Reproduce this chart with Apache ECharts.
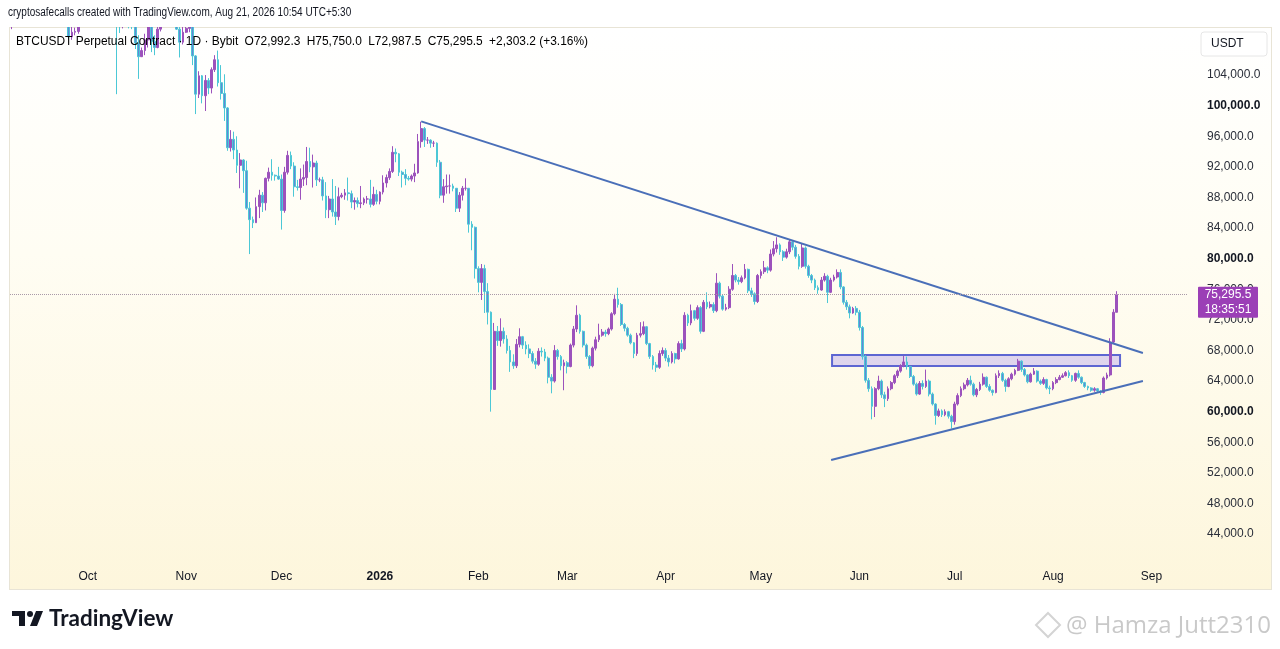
<!DOCTYPE html>
<html>
<head>
<meta charset="utf-8">
<script src="https://cdn.jsdelivr.net/npm/echarts@6/dist/echarts.min.js"></script>
<style>
  html, body { margin: 0; padding: 0; background: #fff; }
  #frame {
    position: absolute; left: 9px; top: 27px; width: 1261px; height: 561px;
    border: 1px solid #e8e4d6;
    background: linear-gradient(#ffffff 0%, #fffdf3 40%, #fdf6dc 100%);
  }
  #chart { position: absolute; left: 0; top: 0; width: 1280px; height: 649px; }
</style>
</head>
<body>
<div id="frame"></div>
<div id="chart"></div>
<script>
// BTCUSDT perpetual, daily candles, values in thousands of USDT
const startDate = [2025, 8, 7];      // first category: Sep 7 2025
const dayCount = 371;                 // categories up to Sep 12 2026
const firstOpen = 110.7;

const closes = [
  // Sep 7 - Sep 30
  111.1, 112.0, 111.5, 113.9, 115.4, 116.1, 115.9, 115.3, 115.4, 116.8, 116.5, 117.1, 115.7, 115.7, 115.3, 112.7, 112.0, 113.3, 109.0, 109.6, 109.7, 112.1, 114.4, 114.0,
  // Oct
  118.6, 120.6, 122.3, 122.4, 123.5, 124.8, 121.4, 123.3, 121.7, 113.2, 110.6, 115.2, 115.3, 113.0, 110.8, 108.2, 106.4, 107.2, 108.6, 110.6, 108.4, 107.6, 110.0, 111.0, 111.6, 114.5, 114.1, 112.9, 110.0, 108.3, 109.6,
  // Nov
  110.1, 110.6, 106.5, 101.5, 103.9, 101.3, 103.3, 102.3, 104.7, 106.0, 103.0, 101.6, 99.7, 94.5, 95.6, 94.2, 92.2, 92.9, 91.5, 86.6, 85.1, 84.7, 86.8, 88.3, 87.3, 90.5, 91.3, 90.9, 90.8, 90.4,
  // Dec
  86.3, 91.3, 93.5, 92.1, 89.4, 89.3, 90.4, 90.6, 92.7, 92.0, 92.5, 90.3, 90.3, 88.2, 86.4, 87.8, 86.1, 85.5, 88.1, 88.3, 88.6, 88.5, 87.4, 87.6, 87.2, 87.3, 87.8, 87.8, 87.1, 88.4, 87.5,
  // Jan 2026
  88.7, 89.9, 90.6, 91.4, 93.9, 93.7, 91.3, 91.0, 90.5, 90.4, 90.8, 91.2, 95.3, 97.0, 95.5, 95.5, 95.1, 95.1, 92.6, 88.3, 89.4, 89.5, 89.5, 89.2, 86.6, 88.3, 89.2, 89.2, 84.5, 84.1, 78.7,
  // Feb
  76.9, 78.7, 75.7, 73.0, 62.9, 70.5, 69.3, 70.5, 69.5, 68.0, 66.5, 66.0, 68.8, 69.8, 68.7, 68.2, 67.6, 66.6, 66.2, 67.9, 67.8, 67.0, 64.5, 64.0, 68.0, 67.2, 66.0, 66.4,
  // Mar
  65.9, 68.7, 70.8, 72.6, 70.5, 68.7, 67.2, 66.0, 68.3, 69.4, 70.0, 70.4, 70.2, 70.8, 72.8, 74.7, 74.0, 71.4, 70.9, 70.0, 69.0, 67.6, 70.0, 70.2, 71.1, 68.9, 67.2, 66.1, 65.8, 67.6, 68.0,
  // Apr
  67.0, 66.5, 67.6, 66.9, 68.9, 68.2, 72.6, 71.6, 73.2, 72.2, 73.6, 70.5, 74.3, 73.7, 74.0, 73.2, 76.8, 75.1, 73.4, 73.6, 76.0, 77.8, 77.2, 77.0, 77.5, 78.6, 75.8, 75.4, 74.4, 77.8,
  // May
  78.3, 78.8, 78.5, 80.6, 81.3, 81.8, 80.9, 80.2, 80.9, 82.2, 81.5, 80.3, 79.0, 81.4, 79.0, 77.8, 77.2, 76.2, 75.9, 77.2, 77.7, 75.6, 77.2, 77.6, 78.2, 76.3, 74.3, 73.7, 72.9, 73.5, 73.0,
  // Jun
  71.0, 67.2, 64.1, 63.0, 60.7, 63.0, 64.0, 62.2, 61.7, 63.0, 63.8, 64.7, 65.3, 66.0, 66.5, 65.9, 64.6, 63.6, 62.3, 63.7, 63.3, 64.0, 62.3, 61.0, 59.5, 60.1, 59.6, 60.0, 59.4, 58.7,
  // Jul
  61.0, 62.1, 63.0, 63.5, 64.1, 63.6, 62.2, 62.9, 63.6, 64.5, 63.3, 62.8, 62.5, 64.7, 65.0, 64.1, 63.3, 64.3, 64.9, 65.4, 66.6, 65.5, 64.8, 63.9, 64.9, 65.3, 64.0, 63.7, 64.2, 63.1, 63.0,
  // Aug 1 - Aug 21
  63.8, 64.2, 64.5, 64.7, 65.1, 64.7, 64.1, 65.0, 64.5, 63.8, 63.3, 63.1, 62.8, 63.0, 62.7, 62.5, 64.4, 64.8, 69.1, 72.9923, 75.2955
];

const highs = [
  111.6, 112.3, 113.2, 114.2, 115.5, 116.3, 116.7, 116.1, 116.8, 117.0, 117.2, 117.9, 117.4, 116.2, 116.0, 115.4, 113.3, 114.0, 113.4, 110.4, 110.2, 112.3, 114.4, 114.8,
  118.7, 120.8, 123.9, 122.9, 125.7, 126.2, 125.0, 124.0, 123.7, 122.5, 113.5, 115.7, 116.0, 115.9, 113.6, 111.7, 109.2, 107.6, 109.4, 111.6, 114.0, 109.2, 111.2, 111.9, 111.9, 115.2, 116.1, 116.0, 113.6, 111.5, 111.2,
  110.6, 111.2, 110.8, 106.6, 104.5, 104.0, 104.0, 103.6, 105.0, 106.6, 107.2, 105.3, 104.1, 99.8, 96.8, 96.6, 96.0, 93.8, 93.0, 92.8, 87.4, 85.5, 88.0, 89.0, 88.7, 90.6, 91.9, 93.0, 91.0, 92.0,
  91.0, 92.0, 94.1, 94.0, 92.6, 90.3, 91.8, 92.3, 94.6, 94.5, 93.6, 92.8, 90.6, 90.7, 90.0, 88.2, 90.4, 89.5, 89.3, 88.6, 89.1, 90.6, 88.9, 88.0, 88.0, 89.5, 88.0, 88.2, 90.3, 89.4, 89.0,
  88.8, 90.9, 91.0, 91.8, 94.7, 94.4, 93.8, 91.5, 91.7, 90.8, 91.0, 92.4, 96.3, 97.9, 97.2, 95.9, 95.6, 95.4, 95.2, 92.9, 90.4, 91.0, 91.0, 89.8, 89.2, 88.7, 89.5, 90.5, 89.2, 84.9, 84.2,
  79.0, 79.3, 79.2, 76.8, 73.1, 71.6, 71.2, 72.2, 71.0, 70.0, 68.6, 67.5, 69.5, 70.9, 69.9, 69.2, 68.8, 67.9, 67.0, 68.3, 68.4, 68.2, 67.2, 64.9, 68.7, 68.2, 67.4, 66.8,
  66.6, 68.9, 71.2, 73.9, 72.8, 70.6, 68.9, 67.4, 68.5, 69.8, 71.5, 70.8, 70.7, 71.0, 73.0, 75.4, 76.2, 74.2, 71.6, 71.1, 70.2, 69.1, 70.3, 71.7, 71.8, 71.2, 69.0, 67.4, 66.5, 68.0, 68.4,
  68.3, 67.4, 67.9, 67.7, 69.2, 69.4, 73.0, 72.8, 74.0, 73.3, 73.9, 73.8, 74.6, 75.6, 74.4, 74.3, 78.1, 77.0, 75.3, 74.1, 76.4, 79.3, 78.0, 77.6, 77.8, 79.3, 78.7, 76.2, 75.6, 78.0,
  78.6, 79.7, 79.0, 81.2, 82.3, 82.8, 82.0, 81.1, 81.3, 82.5, 82.4, 81.8, 80.6, 82.0, 81.6, 79.2, 78.0, 77.4, 76.5, 77.6, 78.1, 77.9, 77.5, 77.9, 78.6, 78.6, 76.4, 74.6, 74.0, 73.7, 73.8,
  73.3, 71.2, 67.4, 64.4, 63.3, 63.2, 64.7, 64.2, 62.6, 63.3, 64.0, 64.9, 65.5, 66.2, 67.3, 67.2, 66.0, 64.8, 63.8, 64.0, 64.1, 65.5, 64.2, 62.5, 61.1, 60.4, 60.3, 60.3, 60.1, 59.6,
  61.3, 62.4, 63.3, 63.8, 64.4, 64.7, 63.8, 63.1, 63.9, 65.0, 64.6, 63.6, 62.9, 65.0, 65.4, 65.2, 64.3, 64.5, 65.1, 65.6, 66.9, 66.7, 65.7, 64.9, 65.1, 65.7, 65.4, 64.2, 64.5, 64.3, 63.4,
  64.0, 64.5, 64.8, 65.0, 65.3, 65.4, 64.8, 65.1, 65.4, 64.6, 63.9, 63.4, 63.2, 63.2, 63.1, 62.8, 64.6, 65.1, 69.6, 73.4, 75.75
];

const lows = [
  110.0, 110.6, 110.8, 111.0, 113.4, 114.5, 115.2, 114.8, 114.6, 114.7, 114.6, 116.2, 115.5, 115.5, 115.1, 111.8, 111.2, 111.0, 108.7, 108.6, 109.2, 109.4, 111.6, 112.6,
  113.9, 117.9, 119.3, 121.6, 122.3, 123.0, 120.7, 121.1, 119.6, 101.5, 109.5, 110.1, 113.4, 110.1, 110.0, 107.4, 103.5, 106.4, 106.6, 107.6, 107.0, 106.6, 107.5, 109.7, 110.9, 111.1, 113.7, 112.5, 109.9, 106.3, 108.0,
  109.5, 109.6, 105.3, 98.9, 101.0, 100.3, 99.3, 101.5, 101.6, 104.4, 102.5, 100.8, 98.0, 94.1, 94.0, 93.0, 91.2, 89.2, 88.6, 86.4, 80.6, 84.0, 84.7, 85.3, 86.1, 86.3, 90.1, 90.2, 90.2, 90.3,
  83.8, 86.0, 91.0, 91.7, 88.1, 88.9, 87.7, 89.5, 89.6, 91.3, 89.3, 89.5, 90.0, 87.6, 85.3, 85.3, 85.5, 84.4, 85.0, 87.9, 87.7, 87.6, 86.6, 86.4, 86.7, 86.6, 87.0, 87.2, 86.7, 86.9, 87.1,
  87.1, 88.4, 89.3, 90.3, 91.2, 92.6, 90.8, 89.3, 89.6, 90.2, 90.1, 90.0, 91.1, 94.5, 94.6, 95.0, 94.5, 94.6, 92.0, 87.9, 87.3, 88.5, 88.5, 88.8, 86.1, 86.1, 87.6, 88.9, 83.4, 81.1, 77.4,
  75.6, 74.6, 72.9, 71.4, 60.0, 62.9, 68.6, 68.5, 68.9, 67.6, 65.2, 65.6, 65.7, 68.4, 68.2, 67.5, 67.0, 66.3, 65.6, 66.0, 67.2, 66.6, 63.7, 62.4, 63.8, 66.8, 65.4, 62.8,
  65.0, 65.8, 68.4, 70.4, 70.2, 68.4, 66.9, 65.6, 65.8, 68.0, 69.1, 69.8, 69.8, 70.0, 70.6, 72.6, 73.6, 71.2, 70.5, 69.8, 68.8, 67.0, 67.3, 69.7, 70.0, 68.7, 66.9, 65.5, 65.2, 65.6, 67.3,
  66.6, 65.9, 66.3, 66.3, 66.8, 67.8, 68.0, 71.2, 71.3, 71.9, 72.0, 70.2, 70.4, 73.4, 73.5, 72.9, 73.0, 74.8, 73.2, 73.2, 73.4, 75.8, 76.9, 76.6, 76.8, 77.3, 75.5, 75.0, 74.0, 74.2,
  77.4, 78.0, 78.1, 78.3, 80.3, 80.8, 80.5, 79.7, 80.0, 80.6, 81.1, 80.0, 78.6, 78.8, 78.7, 77.5, 76.8, 75.9, 75.4, 75.8, 77.0, 74.2, 75.5, 77.0, 77.4, 76.0, 74.0, 73.3, 72.2, 72.8, 72.6,
  70.6, 66.8, 63.8, 62.6, 59.0, 59.3, 62.8, 61.8, 60.6, 61.4, 62.8, 63.6, 64.4, 65.1, 65.8, 65.5, 64.4, 63.4, 62.1, 62.2, 62.9, 63.1, 62.0, 60.8, 58.3, 59.3, 59.3, 59.4, 59.1, 57.8,
  58.3, 60.8, 61.9, 62.8, 63.3, 63.4, 62.0, 61.9, 62.7, 63.4, 63.1, 62.6, 62.1, 62.4, 64.4, 63.9, 62.6, 63.2, 64.1, 64.7, 65.3, 65.2, 64.6, 63.7, 63.8, 64.8, 63.8, 63.5, 63.5, 62.9, 62.3,
  62.8, 63.6, 64.1, 64.4, 64.6, 64.4, 63.9, 63.9, 64.3, 63.6, 63.1, 62.8, 62.6, 62.6, 62.5, 62.2, 62.4, 64.2, 64.6, 68.9, 72.9875
];

const priceTicks = [44000, 48000, 52000, 56000, 60000, 64000, 68000, 72000, 76000, 80000, 84000, 88000, 92000, 96000, 100000, 104000];
const boldTicks = [60000, 80000, 100000];
const monthNames = ['Jan', 'Feb', 'Mar', 'Apr', 'May', 'Jun', 'Jul', 'Aug', 'Sep', 'Oct', 'Nov', 'Dec'];

// drawings: [day index, price]
const trendDown = [[129, 97950], [356.3, 67665]];
const trendUp = [[258.1, 53680], [356.3, 64005]];
const zone = [[258.4, 67400], [349.1, 65970]];
const lastPrice = 75295.5;
const lastTimer = '18:35:51';

const upColor = '#9c52bc';
const downBody = '#6586d6';
const downWick = '#4cc8d6';
const lineBlue = '#4a6fb8';
const textColor = '#131722';
const font = "'Liberation Sans', sans-serif";

const days = [];
for (let i = 0; i < dayCount; i++) {
  const d = new Date(Date.UTC(startDate[0], startDate[1], startDate[2] + i));
  days.push(d.toISOString().slice(0, 10));
}

const candles = closes.map(function (c, i) {
  const o = i ? closes[i - 1] : firstOpen;
  const h = Math.max(highs[i], o, c);
  const l = Math.min(lows[i], o, c);
  return [o * 1000, c * 1000, l * 1000, h * 1000];
});

function fmt(v) {
  return v.toLocaleString('en-US', { minimumFractionDigits: 1, maximumFractionDigits: 1 });
}

const chart = echarts.init(document.getElementById('chart'));
chart.setOption({
  animation: false,
  textStyle: { fontFamily: font },
  grid: { left: 10, right: 92, top: 28, bottom: 87 },
  xAxis: [{
    type: 'category',
    data: days,
    boundaryGap: true,
    axisLine: { show: false },
    axisTick: { show: false },
    splitLine: { show: false },
    axisLabel: {
      interval: function (i, v) { return v.slice(8) === '01'; },
      formatter: function (v) {
        const m = +v.slice(5, 7) - 1;
        return m === 0 ? '{y|' + v.slice(0, 4) + '}' : monthNames[m];
      },
      color: textColor, fontSize: 12, margin: 9, fontFamily: font,
      rich: { y: { fontWeight: 'bold', fontSize: 12, color: textColor, fontFamily: font } }
    }
  }, {
    type: 'value', min: -0.5, max: dayCount - 0.5, show: false
  }],
  yAxis: {
    type: 'value',
    position: 'right',
    min: 40350, max: 110150,
    splitLine: { show: false },
    axisLine: { show: false },
    axisTick: { show: false },
    axisLabel: {
      customValues: priceTicks,
      margin: 19,
      color: '#2a2e39', fontSize: 12, fontFamily: font,
      formatter: function (v) {
        return boldTicks.indexOf(v) >= 0 ? '{b|' + fmt(v) + '}' : fmt(v);
      },
      rich: { b: { fontWeight: 'bold', fontSize: 12, color: textColor, fontFamily: font } }
    }
  },
  series: [{
    type: 'candlestick',
    data: candles,
    clip: true,
    barWidth: '72%',
    itemStyle: {
      color: upColor, color0: downBody,
      borderColor: upColor, borderColor0: downWick,
      borderWidth: 1
    },
    markLine: {
      silent: true,
      symbol: 'none',
      lineStyle: { type: 'dotted', color: '#a99aa8', width: 1 },
      label: { show: false },
      data: [{ yAxis: lastPrice }]
    }
  }, {
    type: 'line', xAxisIndex: 1, data: trendDown, symbol: 'none', silent: true,
    lineStyle: { color: lineBlue, width: 2 }
  }, {
    type: 'line', xAxisIndex: 1, data: trendUp, symbol: 'none', silent: true,
    lineStyle: { color: lineBlue, width: 2 },
    markArea: {
      silent: true,
      itemStyle: { color: 'rgba(178,160,238,0.42)', borderColor: '#5d66d2', borderWidth: 2 },
      data: [[{ coord: zone[0] }, { coord: zone[1] }]]
    }
  }]
});

// header, legend, price tag and footer
const tagY = chart.convertToPixel({ yAxisIndex: 0 }, lastPrice);
chart.setOption({
  graphic: [{
    // keeps candles that run past the top of the pane out of the header strip
    type: 'rect', shape: { x: 0, y: 0, width: 1280, height: 27 }, z: 40,
    style: { fill: '#ffffff' }
  }, {
    type: 'text', x: 8, y: 13, scaleX: 0.8, z: 41,
    style: {
      text: 'cryptosafecalls created with TradingView.com, Aug 21, 2026 10:54 UTC+5:30',
      fill: textColor, fontSize: 12.5, fontFamily: font, verticalAlign: 'middle'
    }
  }, {
    type: 'text', x: 16, y: 42, scaleX: 0.955, z: 41,
    style: {
      text: '{k|BTCUSDT Perpetual Contract · 1D · Bybit}  {k|O}{v|72,992.3}  {k|H}{v|75,750.0}  {k|L}{v|72,987.5}  {k|C}{v|75,295.5}  {v|+2,303.2 (+3.16%)}',
      verticalAlign: 'middle',
      rich: {
        k: { fontSize: 12.5, color: textColor, fontFamily: font },
        v: { fontSize: 12.5, color: '#a056bd', fontFamily: font }
      }
    }
  }, {
    type: 'rect', shape: { x: 1201, y: 32, width: 66, height: 24, r: 3 },
    style: { fill: '#fff', stroke: '#e6e6e6', lineWidth: 1 }
  }, {
    type: 'text', x: 1211, y: 44,
    style: { text: 'USDT', fill: textColor, fontSize: 12, fontFamily: font, verticalAlign: 'middle' }
  }, {
    type: 'rect', shape: { x: 1198, y: tagY - 8, width: 60, height: 31, r: 1 },
    style: { fill: '#9b3fb6' }, z: 50
  }, {
    type: 'text', x: 1228, y: tagY + 7.5, z: 51,
    style: {
      text: fmt(lastPrice) + '\n' + lastTimer, fill: '#fff', fontSize: 12, lineHeight: 15,
      fontFamily: font, align: 'center', verticalAlign: 'middle'
    }
  }, {
    type: 'group', x: 12, y: 611,
    children: [
      { type: 'rect', shape: { x: 0, y: 0, width: 13, height: 5 }, style: { fill: textColor } },
      { type: 'rect', shape: { x: 7, y: 0, width: 6, height: 15 }, style: { fill: textColor } },
      { type: 'circle', shape: { cx: 18, cy: 3, r: 3 }, style: { fill: textColor } },
      { type: 'polygon', shape: { points: [[24, 0], [31, 0], [25, 15], [18, 15]] }, style: { fill: textColor } }
    ]
  }, {
    type: 'text', x: 49, y: 619,
    style: { text: 'TradingView', fill: textColor, fontSize: 22.5, fontWeight: 'bold', fontFamily: "'Lato', 'Liberation Sans', sans-serif", verticalAlign: 'middle' }
  }, {
    type: 'polygon', shape: { points: [[1048, 613], [1060, 625], [1048, 637], [1036, 625]] },
    style: { fill: 'none', stroke: '#d4d4d4', lineWidth: 2 }
  }, {
    type: 'text', x: 1066, y: 626,
    style: { text: '@ Hamza Jutt2310', fill: '#c9c9c9', fontSize: 24, fontFamily: "'Open Sans', sans-serif", verticalAlign: 'middle' }
  }]
});
</script>
</body>
</html>
